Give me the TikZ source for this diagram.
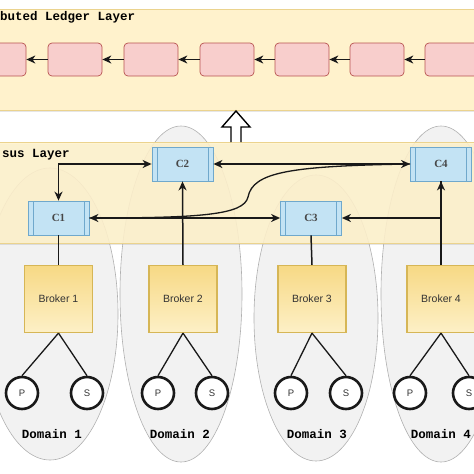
\documentclass[tikz,border=0pt]{standalone}
\usepackage{fontspec}
\setmainfont{Liberation Sans}
\newfontfamily\monob{Liberation Mono}
\newfontfamily\serifc{Liberation Serif}
\usetikzlibrary{arrows.meta,shapes.geometric,shadows}
\definecolor{bandfill}{HTML}{FFF2CC}
\definecolor{bandline}{HTML}{EBD38E}
\definecolor{blkfill}{HTML}{F8CECC}
\definecolor{blkline}{HTML}{B85450}
\definecolor{cfill}{HTML}{C3E3F4}
\definecolor{cline}{HTML}{6FA8CC}
\definecolor{brtop}{HTML}{F7D985}
\definecolor{brbot}{HTML}{FDF0C6}
\definecolor{brline}{HTML}{D6B656}
\definecolor{domfill}{HTML}{F2F2F2}
\definecolor{domline}{HTML}{B0B0B0}
\definecolor{txt}{HTML}{333333}
\tikzset{
  band/.style={draw=bandline, fill=bandfill, line width=0.8pt, inner sep=0pt, minimum width=500pt, minimum height=101pt},
  blk/.style={draw=blkline, fill=blkfill, rounded corners=4pt, line width=0.7pt, minimum width=54pt, minimum height=33pt, inner sep=0pt},
  cbox/.style={draw=cline, fill=cfill, line width=0.8pt, minimum width=61pt, minimum height=34pt, inner sep=0pt,
    font=\serifc\bfseries\fontsize{11}{12}\selectfont, text=txt!90,
    path picture={
      \draw[cline, line width=0.8pt] ([xshift=5pt]path picture bounding box.north west) -- ([xshift=5pt]path picture bounding box.south west);
      \draw[cline, line width=0.8pt] ([xshift=-5pt]path picture bounding box.north east) -- ([xshift=-5pt]path picture bounding box.south east);}},
  broker/.style={draw=brline, top color=brtop, bottom color=brbot, line width=1.2pt, minimum width=68pt, minimum height=67pt, inner sep=0pt,
    font=\fontsize{10.5}{12}\selectfont, text=txt},
  ps/.style={circle, draw=black!90, fill=white, line width=2.6pt, minimum size=32pt, inner sep=0pt, font=\fontsize{9.5}{10}\selectfont, text=txt},
  dom/.style={ellipse, draw=domline, fill=domfill, line width=0.6pt, inner sep=0pt},
  lbl/.style={font=\monob\bfseries\fontsize{12.5}{14}\selectfont, text=black, inner sep=0pt},
  conn/.style={draw=black!90, line width=1.5pt},
  tip/.style={-{Stealth[length=9pt,width=8pt,inset=2.8pt]}},
  tips/.style={{Stealth[length=9pt,width=8pt,inset=2.8pt]}-{Stealth[length=9pt,width=8pt,inset=2.8pt]}},
}
\begin{document}
\begin{tikzpicture}[x=1pt,y=-1pt]
\useasboundingbox (0,0) rectangle (474,474);
% domains
\node[dom, minimum width=136pt, minimum height=292pt] (dom1) at (50,314) {};
\node[dom, minimum width=122pt, minimum height=336pt] (dom2) at (181,294) {};
\node[dom, minimum width=124pt, minimum height=286pt] (dom3) at (316,318) {};
\node[dom, minimum width=120pt, minimum height=336pt] (dom4) at (441,294) {};
% bands
\node[band, fill opacity=0.88, drop shadow={shadow xshift=0pt, shadow yshift=-2pt, opacity=0.2}] (cons) at (237,192.5) {};
\node[band, drop shadow={shadow xshift=0pt, shadow yshift=-2pt, opacity=0.2}] (ledger) at (237,59.5) {};
\node[lbl, anchor=west] (ledgerlbl) at (0,17.5) {buted Ledger Layer};
\node[lbl, anchor=west] (conslbl) at (2,154.5) {sus Layer};
% ledger blocks
\foreach \i/\x in {1/-1,2/75,3/151,4/227,5/302,6/377,7/452}{
  \node[blk] (b\i) at (\x,59.5) {};
}
\foreach \i/\j in {2/1,3/2,4/3,5/4,6/5,7/6}{
  \draw[conn, tip] (b\i.west) -- (b\j.east);
}
% up arrow
\coordinate (ua) at (236,142);
\draw[black, line width=1.4pt, fill=white, line join=miter] (231,142) -- (231,127) -- (222,127) -- (236,111) -- (250,127) -- (241,127) -- (241,142);
% consensus nodes
\node[cbox] (C1) at (58.5,218) {C1};
\node[cbox] (C2) at (182.5,164) {C2};
\node[cbox] (C3) at (311,218) {C3};
\node[cbox] (C4) at (441,164) {C4};
% brokers
\node[broker] (B1) at (58.5,299) {Broker 1};
\node[broker] (B2) at (183,299) {Broker 2};
\node[broker] (B3) at (312,299) {Broker 3};
\node[broker] (B4) at (441,299) {Broker 4};
% P and S
\node[ps] (P1) at (22,393) {P};
\node[ps] (S1) at (87,393) {S};
\node[ps] (P2) at (158,393) {P};
\node[ps] (S2) at (212,393) {S};
\node[ps] (P3) at (291,393) {P};
\node[ps] (S3) at (346,393) {S};
\node[ps] (P4) at (410,393) {P};
\node[ps] (S4) at (469,393) {S};
\foreach \k in {1,2,3,4}{
  \draw[conn, line width=1.3pt] (B\k.south) -- (P\k.north);
  \draw[conn, line width=1.3pt] (B\k.south) -- (S\k.north);
}
% domain labels
\node[lbl] (d1) at (52,434) {Domain 1};
\node[lbl] (d2) at (180,434) {Domain 2};
\node[lbl] (d3) at (317,434) {Domain 3};
\node[lbl] (d4) at (441,434) {Domain 4};
% connectors
\draw[conn] (B1.north) -- (C1.south);
\draw[conn, tip] (B2.north) -- (C2.south);
\draw[conn] (B3.north) -- (C3.south);
\draw[conn] (B4.north) -- (C4.south);
\draw[conn, tips] (C1.north) |- (C2.west);
\draw[conn, tips] (C2.east) -- (C4.west);
\draw[conn, tips] (C1.east) -- (C3.west);
\draw[conn, tips] (C3.east) -| (C4.south);
\draw[conn, line width=1.3pt] (C1.east) .. controls (200,218) and (244,215) .. (248,197) .. controls (253,172) and (290,166) .. (C4.west);
\end{tikzpicture}
\end{document}
